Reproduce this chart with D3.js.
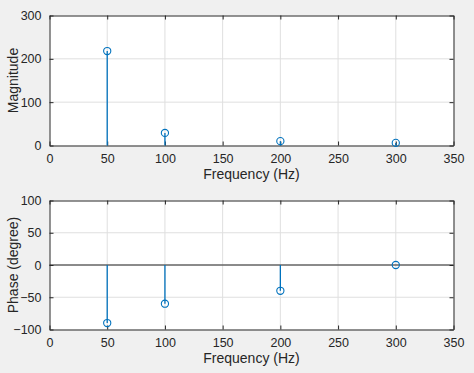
<!DOCTYPE html>
<html>
<head>
<meta charset="utf-8">
<script src="https://cdn.jsdelivr.net/npm/d3@7"></script>
<style>
  body { margin: 0; background: #f0f0f0; }
  svg { display: block; font-family: "Liberation Sans", Arial, Helvetica, sans-serif; }
</style>
</head>
<body>
<div id="chart"></div>
<script>
// data
let freqs = [50, 100, 200, 300];
let magnitudes = [218, 29, 10, 6];
let phases = [-90, -60, -40, 0];
let xTicks = [0, 50, 100, 150, 200, 250, 300, 350];
let magTicks = [0, 100, 200, 300];
let phaseTicks = [-100, -50, 0, 50, 100];

let W = 474, H = 373;
let stemColor = "#0072bd";
let axisColor = "#262626";
let gridColor = "#dfdfdf";

let svg = d3.select("#chart").append("svg")
    .attr("width", W)
    .attr("height", H);

svg.append("rect").attr("width", W).attr("height", H).attr("fill", "#f0f0f0");

let xScale = d3.scaleLinear().domain([0, 350]).range([49.5, 453.5]);

function drawPanel(opts) {
    let {top, bottom, yDomain, yTicks, values, yLabel, baseline} = opts;
    let yScale = d3.scaleLinear().domain(yDomain).range([bottom, top]);
    let g = svg.append("g");
    let x0 = xScale.range()[0], x1 = xScale.range()[1];

    g.append("rect")
        .attr("x", x0).attr("y", top)
        .attr("width", x1 - x0).attr("height", bottom - top)
        .attr("fill", "#ffffff");

    // grid
    g.selectAll(".vgrid").data(xTicks.slice(1, -1)).enter().append("line")
        .attr("x1", d => xScale(d)).attr("x2", d => xScale(d))
        .attr("y1", top).attr("y2", bottom)
        .attr("stroke", gridColor).attr("stroke-width", 1);
    g.selectAll(".hgrid").data(yTicks.slice(1, -1)).enter().append("line")
        .attr("x1", x0).attr("x2", x1)
        .attr("y1", d => yScale(d)).attr("y2", d => yScale(d))
        .attr("stroke", gridColor).attr("stroke-width", 1);

    // stem baseline
    if (baseline) {
        g.append("line")
            .attr("x1", x0).attr("x2", x1)
            .attr("y1", yScale(0)).attr("y2", yScale(0))
            .attr("stroke", axisColor).attr("stroke-width", 1);
    }

    // axes with inside ticks, box on
    let bottomAxis = d3.axisBottom(xScale).tickValues(xTicks).tickSizeInner(-4).tickSizeOuter(0).tickPadding(9);
    let topAxis = d3.axisTop(xScale).tickValues(xTicks).tickSizeInner(-4).tickSizeOuter(0).tickFormat("");
    let leftAxis = d3.axisLeft(yScale).tickValues(yTicks).tickSizeInner(-4).tickSizeOuter(0).tickPadding(8);
    let rightAxis = d3.axisRight(yScale).tickValues(yTicks).tickSizeInner(-4).tickSizeOuter(0).tickFormat("");

    let axes = [
        g.append("g").attr("transform", "translate(0," + bottom + ")").call(bottomAxis),
        g.append("g").attr("transform", "translate(0," + top + ")").call(topAxis),
        g.append("g").attr("transform", "translate(" + x0 + ",0)").call(leftAxis),
        g.append("g").attr("transform", "translate(" + x1 + ",0)").call(rightAxis)
    ];
    axes.forEach(function(a) {
        a.select(".domain").attr("stroke", axisColor).attr("stroke-width", 1);
        a.selectAll(".tick line").attr("stroke", axisColor);
        a.selectAll(".tick text").attr("fill", axisColor).attr("font-size", 12.5)
            .attr("font-family", "'Liberation Sans', Arial, sans-serif");
    });

    // stems
    g.selectAll(".stem").data(values).enter().append("line")
        .attr("x1", (d, i) => xScale(freqs[i])).attr("x2", (d, i) => xScale(freqs[i]))
        .attr("y1", yScale(0)).attr("y2", d => yScale(d))
        .attr("stroke", stemColor).attr("stroke-width", 1.3);
    g.selectAll(".marker").data(values).enter().append("circle")
        .attr("cx", (d, i) => xScale(freqs[i])).attr("cy", d => yScale(d))
        .attr("r", 3.6)
        .attr("fill", "none")
        .attr("stroke", stemColor).attr("stroke-width", 1.1);

    // labels
    g.append("text")
        .attr("x", (x0 + x1) / 2).attr("y", bottom + 33)
        .attr("text-anchor", "middle")
        .attr("font-size", 14).attr("fill", axisColor)
        .text("Frequency (Hz)");
    g.append("text")
        .attr("transform", "translate(18," + ((top + bottom) / 2) + ") rotate(-90)")
        .attr("text-anchor", "middle")
        .attr("font-size", 14).attr("fill", axisColor)
        .text(yLabel);
}

drawPanel({top: 15.5, bottom: 145.5, yDomain: [0, 300], yTicks: magTicks,
    values: magnitudes, yLabel: "Magnitude", baseline: false});
drawPanel({top: 200.5, bottom: 329.5, yDomain: [-100, 100], yTicks: phaseTicks,
    values: phases, yLabel: "Phase (degree)", baseline: true});
</script>
</body>
</html>
